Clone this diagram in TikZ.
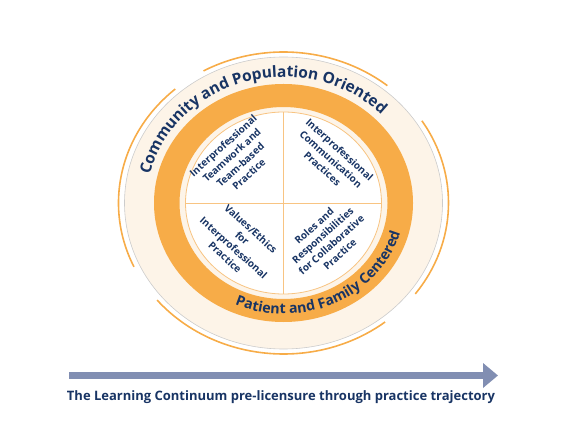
\documentclass[tikz,border=0pt]{standalone}
\usepackage{fontspec}
\setmainfont{Open Sans}
\usetikzlibrary{decorations.text,arrows.meta}
\definecolor{navy}{RGB}{24,52,100}
\definecolor{ring}{RGB}{247,172,72}
\definecolor{cream}{RGB}{253,244,232}
\definecolor{thinorange}{RGB}{248,196,130}
\definecolor{arrowc}{RGB}{129,142,178}
\begin{document}
\begin{tikzpicture}[x=1pt,y=1pt,
  quad/.style={text=navy,font=\fontsize{10}{12.8}\selectfont\bfseries,align=center,inner sep=0pt},
  outerarc/.style={draw=ring,line width=1.6pt}]
\useasboundingbox (0,0) rectangle (577,439);
\begin{scope}[shift={(283.5,236)}]
  % cream disc
  \fill[cream,draw=gray!40,line width=0.6pt] (0,0) ellipse [x radius=159pt,y radius=146pt];
  % outer arcs
  \draw[outerarc] (51:165pt and 151pt) arc[start angle=51,end angle=119,x radius=165pt,y radius=151pt];
  \draw[outerarc] (131:165pt and 151pt) arc[start angle=131,end angle=205,x radius=165pt,y radius=151pt];
  \draw[outerarc] (220:165pt and 151pt) arc[start angle=220,end angle=308,x radius=165pt,y radius=151pt];
  \draw[outerarc] (-37:165pt and 151pt) arc[start angle=-37,end angle=33,x radius=165pt,y radius=151pt];
  % orange ring
  \fill[ring,even odd rule] (0,0) ellipse [x radius=129.5pt,y radius=119pt] (0,0) ellipse [x radius=104pt,y radius=96pt];
  % inner disc
  \draw[thinorange,fill=white,line width=0.8pt] (0,0) ellipse [x radius=98pt,y radius=91pt];
  \coordinate (l) at (-98,0);
  \coordinate (r) at (98,0);
  \coordinate (t) at (0,91);
  \coordinate (b) at (0,-91);
  \draw[thinorange,line width=0.8pt] (l) -- (r);
  \draw[thinorange,line width=0.8pt] (t) -- (b);
  % ring texts
  \path[decorate,decoration={text along path,text align=center,text color=navy,
    text={|\fontsize{15.5}{18}\selectfont\bfseries|Community and Population Oriented}}]
    (181:137pt and 126pt) arc[start angle=181,end angle=31,x radius=137pt,y radius=126pt];
  \path[decorate,decoration={text along path,text align=center,text color=navy,
    text={|\fontsize{14.2}{17}\selectfont\bfseries|Patient and Family Centered}}]
    (230:121pt and 111pt) arc[start angle=230,end angle=362,x radius=121pt,y radius=111pt];
  % quadrants
  \node[quad,rotate=42] (q1) at (-47.5,43) {Interprofessional\\Teamwork and\\Team-based\\Practice};
  \node[quad,rotate=-42] (q2) at (47.5,44) {Interprofessional\\Communication\\Practices};
  \node[quad,rotate=-42] (q3) at (-45.5,-40) {Values/Ethics\\for\\Interprofessional\\Practice};
  \node[quad,rotate=42] (q4) at (43.5,-37) {Roles and\\Responsibilities\\for Collaborative\\Practice};
\end{scope}
% arrow
\coordinate (as) at (69,63.5);
\coordinate (ae) at (498,63.5);
\draw[arrowc,line width=7pt,-{Triangle[length=15pt,width=24pt]}] (as) -- (ae);
\node[text=navy,font=\fontsize{13}{15}\selectfont\bfseries] (cap) at (281,42) {The Learning Continuum pre-licensure through practice trajectory};
\end{tikzpicture}
\end{document}
